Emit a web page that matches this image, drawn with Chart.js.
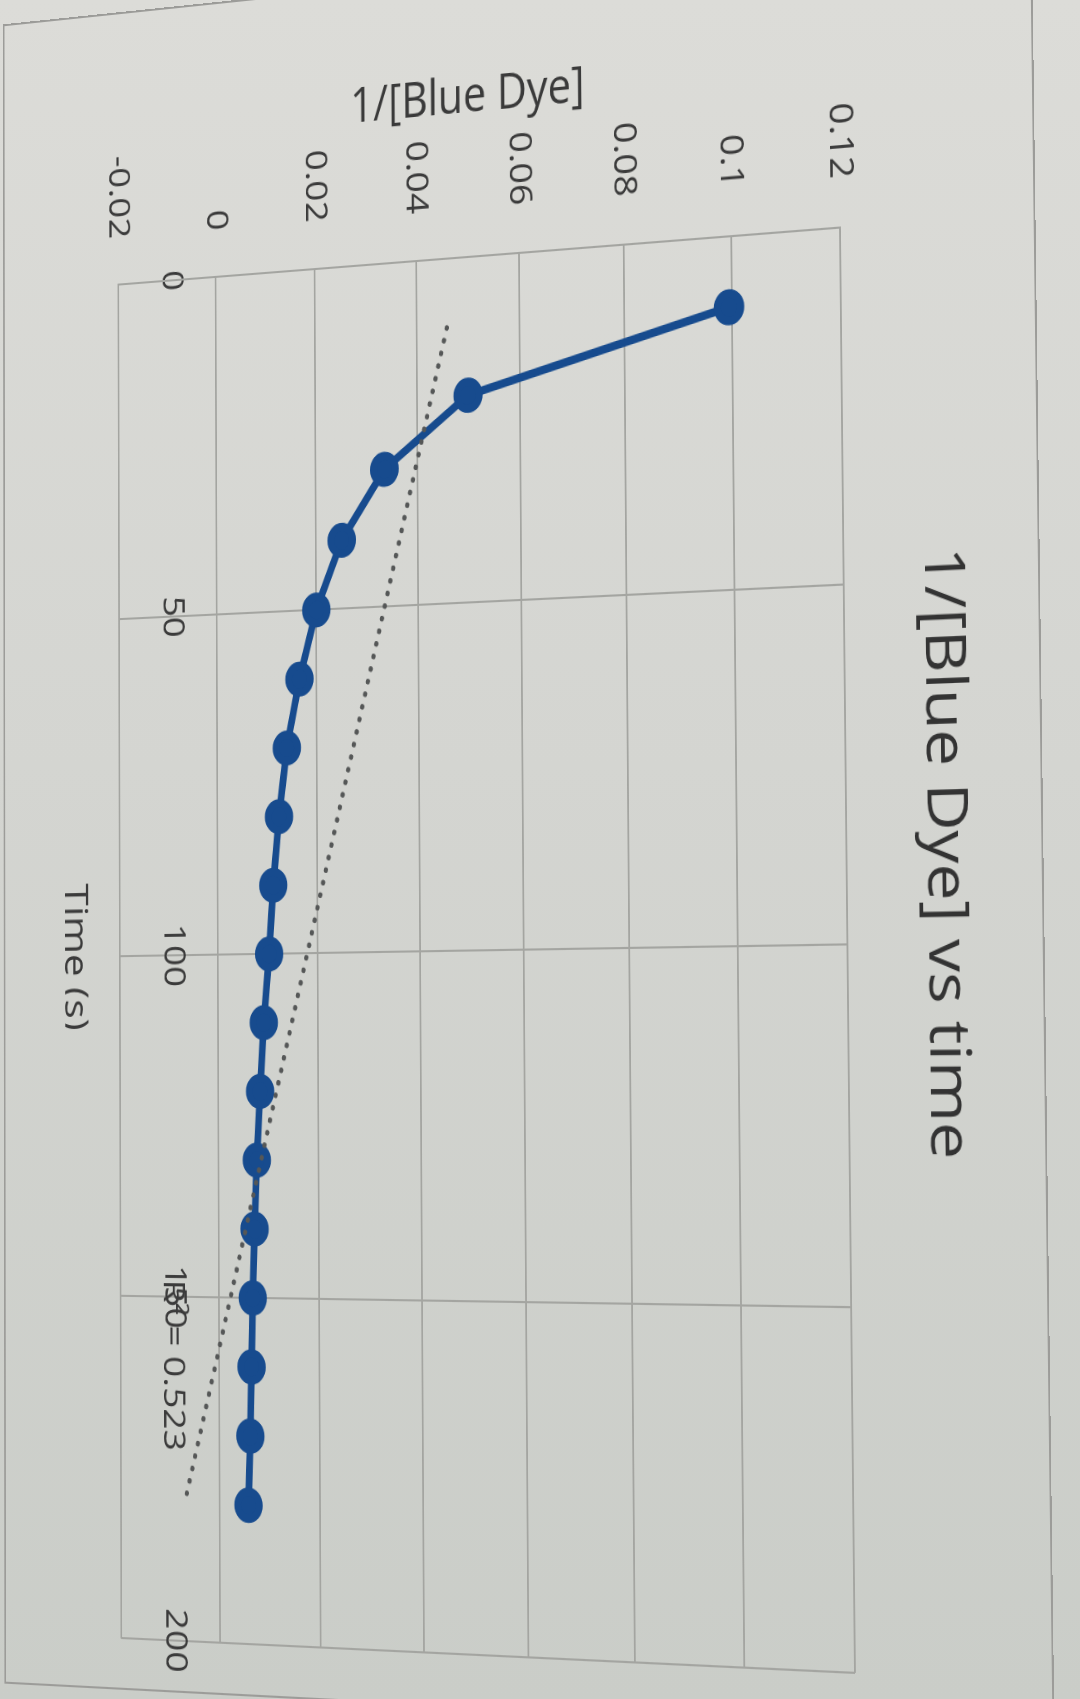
<!DOCTYPE html>
<html>
<head>
<meta charset="utf-8">
<title>1/[Blue Dye] vs time</title>
<script src="https://cdn.jsdelivr.net/npm/chart.js@4.4.1/dist/chart.umd.min.js"></script>
<style>
  html, body { margin: 0; padding: 0; }
  body {
    width: 1080px; height: 1699px; overflow: hidden; position: relative;
    background: linear-gradient(to bottom, #dcdcd8 0%, #d4d5d1 45%, #cacdc8 100%);
  }
  #sheet { position: absolute; left: 0; top: 0; width: 1685px; height: 1091px; transform-origin: 0 0; }
  #sheet canvas { position: absolute; left: 0; top: 0; }
  #frame { position: absolute; border: 2px solid #9c9c99; box-sizing: border-box; }
</style>
</head>
<body>
<div id="sheet">
  <div id="frame"></div>
  <canvas id="myChart" width="1685" height="1091"></canvas>
</div>
<script>
//readings
const times = [10, 20, 30, 40, 50, 60, 70, 80, 90, 100, 110, 120, 130, 140, 150, 160, 170, 180];
const invDye = [0.0995, 0.0500, 0.0336, 0.0251, 0.0200, 0.0166, 0.0140, 0.0124, 0.0112, 0.0103,
                0.0092, 0.0084, 0.0077, 0.0072, 0.0068, 0.0065, 0.0062, 0.0058];

//axis ticks
const xTicks = [0, 50, 100, 150, 200];
const xTickLabels = ['0', '50', '100', '150', '200'];
const yTicks = [-0.02, 0, 0.02, 0.04, 0.06, 0.08, 0.1, 0.12];
const yTickLabels = ['-0.02', '0', '0.02', '0.04', '0.06', '0.08', '0.1', '0.12'];
const r2Text = 'R\u00B2 = 0.523';

//linear trendline (least squares) from first to last reading
const n = times.length;
const mx = times.reduce((a, b) => a + b) / n;
const my = invDye.reduce((a, b) => a + b) / n;
let sxy = 0, sxx = 0;
times.forEach((t, i) => {
  sxy += (t - mx) * (invDye[i] - my);
  sxx += (t - mx) * (t - mx);
});
const slope = sxy / sxx;
const icpt = my - slope * mx;
const trend = [times[0], times[n - 1]].map(t => ({x: t, y: icpt + slope * t}));

//R² label next to the end of the trendline
const r2Label = {
  id: 'r2Label',
  afterDatasetsDraw(chart) {
    const {ctx, scales: {x, y}} = chart;
    ctx.save();
    ctx.font = '36px "Open Sans"';
    ctx.fillStyle = '#3a3a3a';
    ctx.textAlign = 'center';
    ctx.textBaseline = 'middle';
    ctx.fillText(r2Text, x.getPixelForValue(160), y.getPixelForValue(-0.0095));
    ctx.restore();
  }
};

Chart.defaults.font.family = '"Open Sans", "DejaVu Sans", sans-serif';
Chart.defaults.color = '#3a3a3a';
const gridColor = '#a4a5a1';

const chart = new Chart(document.getElementById('myChart'), {
  type: 'scatter',
  data: {
    datasets: [{
      label: 'Linear (1/[Blue Dye])',
      data: trend,
      showLine: true,
      borderColor: '#555757',
      borderWidth: 5,
      borderDash: [0.5, 12],
      borderCapStyle: 'round',
      pointRadius: 0
    }, {
      label: '1/[Blue Dye]',
      data: times.map((t, i) => ({x: t, y: invDye[i]})),
      showLine: true,
      borderColor: '#174b8e',
      backgroundColor: '#174b8e',
      borderWidth: 8,
      pointRadius: 13,
      pointHoverRadius: 13
    }]
  },
  options: {
    responsive: false,
    animation: false,
    layout: {padding: {left: 70, right: 122, top: 0, bottom: 0}},
    plugins: {
      legend: {display: false},
      tooltip: {enabled: false},
      title: {
        display: true,
        text: '1/[Blue Dye] vs time',
        font: {size: 60, weight: 'normal'},
        color: '#333333',
        padding: {top: 40, bottom: 69}
      }
    },
    scales: {
      x: {
        type: 'linear',
        min: 0,
        max: 200,
        position: {y: 0},
        afterBuildTicks: s => { s.ticks = xTicks.map(v => ({value: v})); },
        ticks: {callback: (v, i) => xTickLabels[i], font: {size: 36}, padding: 33, maxRotation: 0, autoSkip: false},
        grid: {color: gridColor, lineWidth: 2, drawTicks: false},
        border: {color: gridColor, width: 2},
        title: {display: true, text: 'Time (s)', font: {size: 40}, padding: {top: 43, bottom: 0}}
      },
      y: {
        type: 'linear',
        min: -0.02,
        max: 0.12,
        afterBuildTicks: s => { s.ticks = yTicks.map(v => ({value: v})); },
        ticks: {callback: (v, i) => yTickLabels[i], font: {size: 36}, padding: 46, autoSkip: false},
        grid: {color: gridColor, lineWidth: 2, drawTicks: false},
        border: {color: gridColor, width: 2},
        title: {display: true, text: '1/[Blue Dye]', font: {size: 48}, padding: {top: -17, bottom: -50}}
      }
    }
  },
  plugins: [r2Label]
});

//the photo shows the printout turned a quarter turn and seen at a slant:
//map the plot rectangle onto the four corners it has in the photo
const ca = chart.chartArea;
const frame = document.getElementById('frame');
frame.style.left = (ca.left - 272) + 'px';
frame.style.top = (ca.top - 210) + 'px';
frame.style.width = (ca.right - ca.left + 322) + 'px';
frame.style.height = (ca.bottom - ca.top + 355) + 'px';

function squareToQuad(q) {
  const [x0, y0, x1, y1, x2, y2, x3, y3] = q;
  const dx1 = x1 - x2, dx2 = x3 - x2, dx3 = x0 - x1 + x2 - x3;
  const dy1 = y1 - y2, dy2 = y3 - y2, dy3 = y0 - y1 + y2 - y3;
  const den = dx1 * dy2 - dx2 * dy1;
  const g = (dx3 * dy2 - dx2 * dy3) / den;
  const h = (dx1 * dy3 - dx3 * dy1) / den;
  return [
    [x1 - x0 + g * x1, x3 - x0 + h * x3, x0],
    [y1 - y0 + g * y1, y3 - y0 + h * y3, y0],
    [g, h, 1]
  ];
}

//corners: (left,top) (right,top) (right,bottom) (left,bottom) of the plot
const Q = squareToQuad([840, 228, 855, 1673, 121, 1638, 118, 285]);
const w = ca.right - ca.left, h = ca.bottom - ca.top;
const M = Q.map(r => [r[0] / w, r[1] / h, r[2] - r[0] * ca.left / w - r[1] * ca.top / h]);
const k = M[2][2];
const m = M.map(r => r.map(v => v / k));
document.getElementById('sheet').style.transform =
  'matrix3d(' + [m[0][0], m[1][0], 0, m[2][0], m[0][1], m[1][1], 0, m[2][1], 0, 0, 1, 0, m[0][2], m[1][2], 0, m[2][2]].join(',') + ')';
</script>
</body>
</html>
